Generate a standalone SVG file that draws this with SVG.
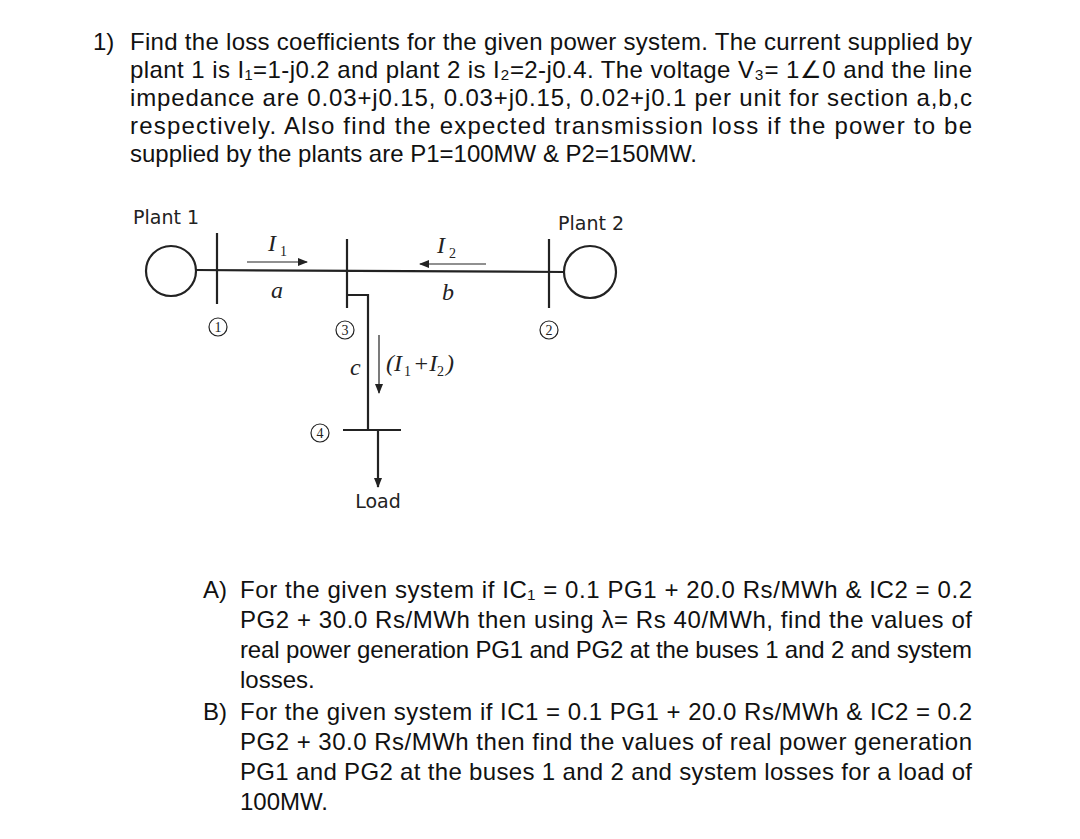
<svg xmlns="http://www.w3.org/2000/svg" width="1080" height="839" viewBox="0 0 1080 839">
<style>
.t{font-family:"Liberation Sans",Arial,sans-serif;font-size:24px;fill:#111}
.d{font-family:"DejaVu Sans",sans-serif;font-size:19px;fill:#222}
.m{font-family:"Liberation Serif",serif;font-style:italic;font-size:24px;fill:#222}
.s{font-family:"Liberation Serif",serif;font-size:14px;fill:#222}
.n{font-family:"Liberation Serif",serif;font-size:14px;fill:#222}
.w{stroke:#222;stroke-width:2.2;fill:none}
.th{stroke:#222;stroke-width:1.2;fill:none}
</style>
<defs><marker id="ah" markerWidth="10" markerHeight="8" refX="9" refY="4" orient="auto" markerUnits="userSpaceOnUse"><path d="M0,0L10,4L0,8z" fill="#222"/></marker></defs>
<rect width="1080" height="839" fill="#fff"/>
<g id="question">
<text class="t" x="93" y="50">1)</text>
<text class="t" x="130" y="50" textLength="842" lengthAdjust="spacing">Find the loss coefficients for the given power system. The current supplied by</text>
<text class="t" x="130" y="78" textLength="842" lengthAdjust="spacing">plant 1 is I₁=1-j0.2 and plant 2 is I₂=2-j0.4. The voltage V₃= 1∠0 and the line</text>
<text class="t" x="130" y="106" textLength="842" lengthAdjust="spacing">impedance are 0.03+j0.15, 0.03+j0.15, 0.02+j0.1 per unit for section a,b,c</text>
<text class="t" x="130" y="134" textLength="842" lengthAdjust="spacing">respectively. Also find the expected transmission loss if the power to be</text>
<text class="t" x="130" y="162">supplied by the plants are P1=100MW &amp; P2=150MW.</text>
</g>
<g id="connectors">
<line class="w" x1="195" y1="270" x2="565" y2="272"/>
<line class="w" x1="217" y1="233" x2="217" y2="304"/>
<line class="w" x1="347" y1="239" x2="347" y2="308"/>
<line class="w" x1="549" y1="239" x2="549" y2="308"/>
<polyline class="w" points="347,295 368,295 368,430"/>
<line class="w" x1="343" y1="430" x2="401" y2="430"/>
<line class="w" x1="378" y1="430" x2="378" y2="487" marker-end="url(#ah)"/>
<line class="th" x1="247" y1="262" x2="307" y2="262" marker-end="url(#ah)"/>
<line class="th" x1="486" y1="264" x2="420" y2="264" marker-end="url(#ah)"/>
<line class="th" x1="379" y1="335" x2="379" y2="393" marker-end="url(#ah)"/>
</g>
<g id="plant1"><circle class="w" cx="171" cy="271" r="25"/><text class="d" x="133" y="224">Plant 1</text></g>
<g id="plant2"><circle class="w" cx="590" cy="272" r="26"/><text class="d" x="558" y="230">Plant 2</text></g>
<g id="labels">
<text class="m" x="268" y="251">I</text><text class="s" x="280" y="256">1</text>
<text class="m" x="437" y="253">I</text><text class="s" x="449" y="258">2</text>
<text class="m" x="271" y="298">a</text>
<text class="m" x="442" y="300">b</text>
<text class="m" x="350" y="375" font-size="19">c</text>
<text class="m" x="386" y="371" font-size="20">(I</text><text class="s" x="404" y="376">1</text><text class="m" x="413" y="371" font-size="20">+I</text><text class="s" x="437" y="376">2</text><text class="m" x="446" y="371" font-size="20">)</text>
<text class="d" x="378" y="508" text-anchor="middle">Load</text>
</g>
<g id="bus1"><circle class="th" cx="218" cy="327" r="9"/><text class="n" x="218" y="332" text-anchor="middle">1</text></g>
<g id="bus3"><circle class="th" cx="345" cy="330" r="9"/><text class="n" x="345" y="335" text-anchor="middle">3</text></g>
<g id="bus2"><circle class="th" cx="549" cy="330" r="9"/><text class="n" x="549" y="335" text-anchor="middle">2</text></g>
<g id="bus4"><circle class="th" cx="320" cy="433" r="9"/><text class="n" x="320" y="438" text-anchor="middle">4</text></g>
<g id="parts">
<text class="t" x="203" y="598">A)</text>
<text class="t" x="240" y="598" textLength="732" lengthAdjust="spacing">For the given system if IC₁ = 0.1 PG1 + 20.0 Rs/MWh &amp; IC2 = 0.2</text>
<text class="t" x="240" y="628" textLength="732" lengthAdjust="spacing">PG2 + 30.0 Rs/MWh then using λ= Rs 40/MWh, find the values of</text>
<text class="t" x="240" y="658" textLength="732" lengthAdjust="spacing">real power generation PG1 and PG2 at the buses 1 and 2 and system</text>
<text class="t" x="240" y="688">losses.</text>
<text class="t" x="203" y="720">B)</text>
<text class="t" x="240" y="720" textLength="732" lengthAdjust="spacing">For the given system if IC1 = 0.1 PG1 + 20.0 Rs/MWh &amp; IC2 = 0.2</text>
<text class="t" x="240" y="750" textLength="732" lengthAdjust="spacing">PG2 + 30.0 Rs/MWh then find the values of real power generation</text>
<text class="t" x="240" y="780" textLength="732" lengthAdjust="spacing">PG1 and PG2 at the buses 1 and 2 and system losses for a load of</text>
<text class="t" x="240" y="810">100MW.</text>
</g>
</svg>
